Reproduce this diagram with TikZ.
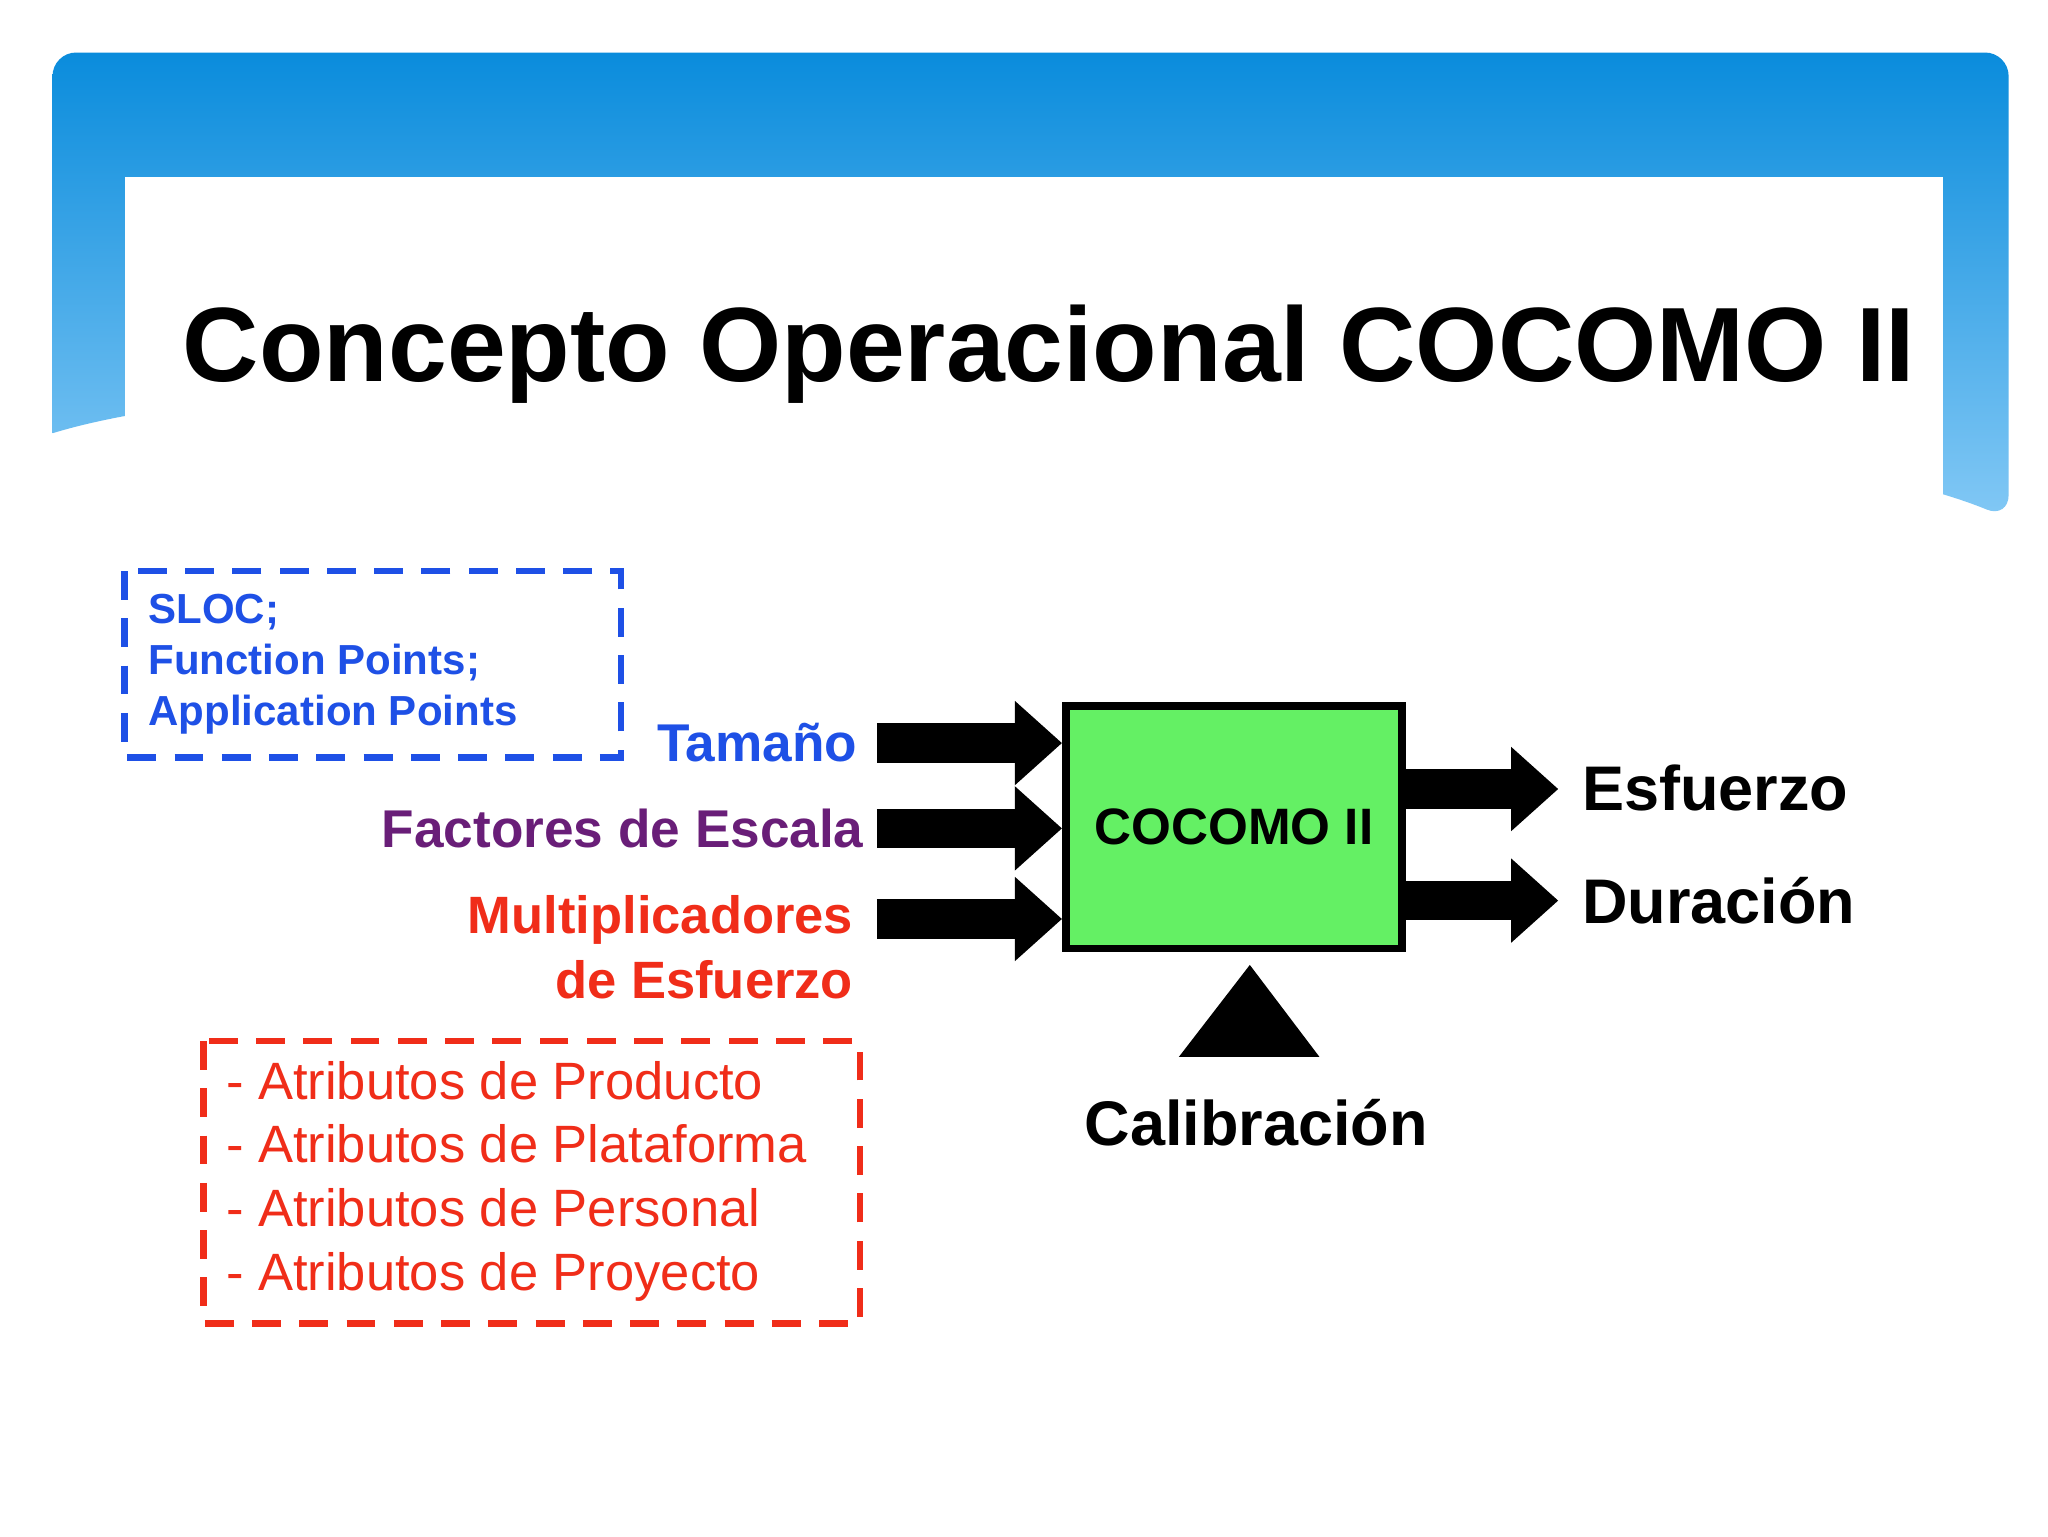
\documentclass[tikz,border=0pt]{standalone}
\usepackage{fontspec}
\setmainfont{Liberation Sans}
\usetikzlibrary{arrows.meta}
\definecolor{hdr}{RGB}{10,140,220}
\definecolor{hdrl}{RGB}{130,200,245}
\definecolor{bluet}{RGB}{30,80,230}
\definecolor{purp}{RGB}{105,30,120}
\definecolor{redt}{RGB}{240,45,25}
\definecolor{gbox}{RGB}{100,240,100}
\tikzset{
 inarrow/.style={line width=30pt,-{Triangle[width=62pt,length=36pt]}},
 lbl/.style={font=\fontsize{40.5}{46}\selectfont\bfseries,inner sep=0pt},
 outlbl/.style={font=\fontsize{48}{54}\selectfont\bfseries,inner sep=0pt,anchor=west},
 dbox/.style={dashed,line width=5pt,dash pattern=on 22pt off 14pt},
}
\begin{document}
\begin{tikzpicture}[x=1pt,y=-1pt]
\useasboundingbox (0,0) rectangle (1560,1170);
\fill[white] (0,0) rectangle (1560,1170);
\shade[top color=hdr,bottom color=hdrl,rounded corners=18pt]
 (40,330) -- (40,40) -- (1530,40) -- (1530,395) [sharp corners] .. controls (1300,300) and (300,250) .. (40,330) -- cycle;
\fill[white] (95,135) rectangle (1480,1050);
\node[font=\fontsize{80.5}{88}\selectfont\bfseries,inner sep=0pt] (title) at (799,270) {Concepto Operacional COCOMO II};
% blue box
\draw[bluet,dbox] (95,435) rectangle (473,577);
\node[bluet,anchor=north west,align=left,font=\fontsize{32}{39}\selectfont\bfseries,inner sep=0pt] (sloc) at (113,452) {SLOC;\\Function Points;\\Application Points};
% green box
\node[draw=black,line width=6pt,fill=gbox,minimum width=256pt,minimum height=185pt,font=\fontsize{39}{44}\selectfont\bfseries] (cm) at (940,630) {COCOMO II};
% inputs
\coordinate (i1) at (668,566); \coordinate (i2) at (668,631); \coordinate (i3) at (668,700);
\draw[inarrow] (i1) -- (cm.west |- i1);
\draw[inarrow] (i2) -- (cm.west |- i2);
\draw[inarrow] (i3) -- (cm.west |- i3);
\node[lbl,bluet,anchor=east] (tam) at (653,566) {Tamaño};
\node[lbl,purp,anchor=east] (fac) at (658,631) {Factores de Escala};
\node[lbl,redt,anchor=north east,align=right,font=\fontsize{40}{49}\selectfont\bfseries] (mul) at (650,682) {Multiplicadores\\de Esfuerzo};
% outputs
\coordinate (o1) at (1187,601); \coordinate (o2) at (1187,686);
\draw[inarrow] (cm.east |- o1) -- (o1);
\draw[inarrow] (cm.east |- o2) -- (o2);
\node[outlbl] (esf) at (1205,600) {Esfuerzo};
\node[outlbl] (dur) at (1205,686) {Duración};
% calibration
\fill (898,805) -- (1005,805) -- (952,735) -- cycle;
\node[outlbl,anchor=center] (cal) at (957,855) {Calibración};
% red box
\draw[redt,dbox] (155,793) rectangle (655,1008);
\node[redt,anchor=north west,align=left,font=\fontsize{40}{48.5}\selectfont,inner sep=0pt] (attr) at (172,808) {- Atributos de Producto\\- Atributos de Plataforma\\- Atributos de Personal\\- Atributos de Proyecto};
\end{tikzpicture}
\end{document}
